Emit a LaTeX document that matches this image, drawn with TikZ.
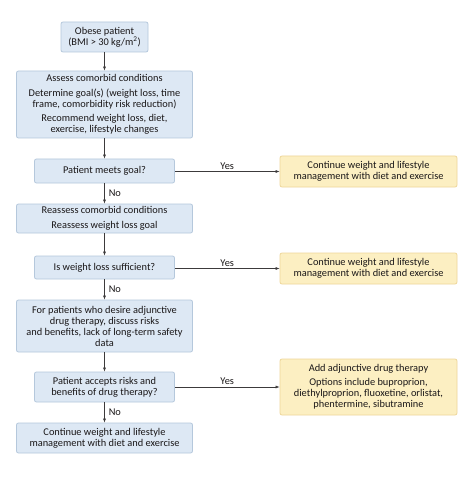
\documentclass[tikz,border=0pt]{standalone}
\usepackage{fontspec}
\setmainfont{Carlito}
\usetikzlibrary{arrows.meta}
\definecolor{bfill}{HTML}{DDE8F4}
\definecolor{bdraw}{HTML}{B5C8DC}
\definecolor{yfill}{HTML}{FCEFC2}
\definecolor{ydraw}{HTML}{EED79A}
\definecolor{ink}{HTML}{1A1718}
\begin{document}
\begin{tikzpicture}[x=1bp,y=-1bp,
  every node/.style={font=\fontsize{10.4}{11}\selectfont, text=ink},
  bbox/.style={draw=bdraw, fill=bfill, rounded corners=2bp, align=center, inner sep=1bp, line width=0.8bp},
  ybox/.style={draw=ydraw, fill=yfill, rounded corners=2bp, align=center, inner sep=1bp, line width=0.8bp},
  conn/.style={draw=ink!85, line width=0.6bp, -{Latex[length=4bp,width=3bp]}},
  lbl/.style={font=\fontsize{10.4}{11}\selectfont, inner sep=1bp}
]
\useasboundingbox (0,0) rectangle (474,478);
\fill[white] (0,0) rectangle (474,478);

\node[bbox, minimum width=87bp, minimum height=30bp] (b1) at (104.5,37) {Obese patient\\(BMI > 30 kg/m\textsuperscript{2})};
\node[bbox, minimum width=176bp, minimum height=67bp] (b2) at (104.5,104.5) {Assess comorbid conditions\\[3.5bp]Determine goal(s) (weight loss, time\\frame, comorbidity risk reduction)\\[3.5bp]Recommend weight loss, diet,\\exercise, lifestyle changes};
\node[bbox, minimum width=140bp, minimum height=24bp] (b3) at (104.5,171) {Patient meets goal?};
\node[bbox, minimum width=176bp, minimum height=29bp] (b4) at (104.5,218.5) {Reassess comorbid conditions\\[3.5bp]Reassess weight loss goal};
\node[bbox, minimum width=140bp, minimum height=23bp] (b5) at (104.5,267.5) {Is weight loss sufficient?};
\node[bbox, minimum width=176bp, minimum height=52bp] (b6) at (104.5,326) {For patients who desire adjunctive\\drug therapy, discuss risks\\and benefits, lack of long-term safety\\data};
\node[bbox, minimum width=140bp, minimum height=30bp] (b7) at (104.5,387) {Patient accepts risks and\\benefits of drug therapy?};
\node[bbox, minimum width=176bp, minimum height=30bp] (b8) at (104.5,438) {Continue weight and lifestyle\\management with diet and exercise};

\node[ybox, minimum width=177bp, minimum height=31bp] (r1) at (368.5,171.5) {Continue weight and lifestyle\\management with diet and exercise};
\node[ybox, minimum width=177bp, minimum height=31bp] (r2) at (368.5,268.5) {Continue weight and lifestyle\\management with diet and exercise};
\node[ybox, minimum width=177bp, minimum height=56bp] (r3) at (368.5,387) {Add adjunctive drug therapy\\[3bp]Options include buproprion,\\diethylproprion, fluoxetine, orlistat,\\phentermine, sibutramine};

\draw[conn] (b1) -- (b2);
\draw[conn] (b2) -- (b3);
\draw[conn] (b3) -- node[lbl, right, xshift=3bp] {No} (b4);
\draw[conn] (b4) -- (b5);
\draw[conn] (b5) -- node[lbl, right, xshift=3bp] {No} (b6);
\draw[conn] (b6) -- (b7);
\draw[conn] (b7) -- node[lbl, right, xshift=3bp] {No} (b8);

\draw[conn] (b3.east |- r1) -- node[lbl, above, yshift=1bp] {Yes} (r1.west);
\draw[conn] (b5.east |- r2) -- node[lbl, above, yshift=1bp] {Yes} (r2.west);
\draw[conn] (b7.east |- r3) -- node[lbl, above, yshift=1bp] {Yes} (r3.west);
\end{tikzpicture}
\end{document}
